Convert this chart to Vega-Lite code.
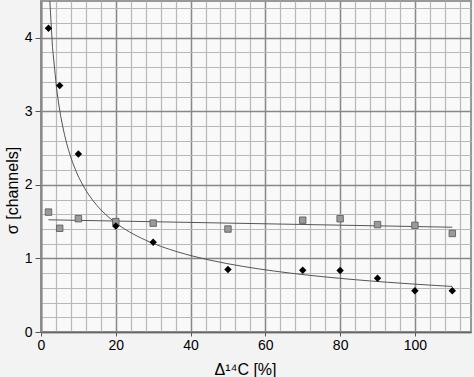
{
  "$schema": "https://vega.github.io/schema/vega-lite/v6.json",
  "width": 430,
  "height": 331,
  "autosize": {"type": "none"},
  "padding": {"left": 41, "top": 1, "right": 3, "bottom": 45},
  "background": "#f3f3f3",
  "view": {"fill": "#f9f9f9", "stroke": "#999999", "strokeWidth": 2},
  "config": {
    "font": "Liberation Sans",
    "axis": {"labelFont": "Liberation Sans", "titleFont": "Liberation Sans", "labelColor": "#000", "titleColor": "#000", "titleFontWeight": "normal"}
  },
  "data": {
    "values": [
      {"x": 2, "sigma": 4.13, "series": "diamond"},
      {"x": 5, "sigma": 3.35, "series": "diamond"},
      {"x": 10, "sigma": 2.42, "series": "diamond"},
      {"x": 20, "sigma": 1.44, "series": "diamond"},
      {"x": 30, "sigma": 1.22, "series": "diamond"},
      {"x": 50, "sigma": 0.85, "series": "diamond"},
      {"x": 70, "sigma": 0.84, "series": "diamond"},
      {"x": 80, "sigma": 0.835, "series": "diamond"},
      {"x": 90, "sigma": 0.73, "series": "diamond"},
      {"x": 100, "sigma": 0.56, "series": "diamond"},
      {"x": 110, "sigma": 0.56, "series": "diamond"},
      {"x": 2, "sigma": 1.63, "series": "square"},
      {"x": 5, "sigma": 1.41, "series": "square"},
      {"x": 10, "sigma": 1.54, "series": "square"},
      {"x": 20, "sigma": 1.50, "series": "square"},
      {"x": 30, "sigma": 1.48, "series": "square"},
      {"x": 50, "sigma": 1.40, "series": "square"},
      {"x": 70, "sigma": 1.52, "series": "square"},
      {"x": 80, "sigma": 1.54, "series": "square"},
      {"x": 90, "sigma": 1.46, "series": "square"},
      {"x": 100, "sigma": 1.45, "series": "square"},
      {"x": 110, "sigma": 1.34, "series": "square"}
    ]
  },
  "encoding": {
    "x": {
      "field": "x", "type": "quantitative",
      "scale": {"domain": [0, 115], "nice": false, "zero": false},
      "axis": {
        "title": "Δ¹⁴C [%]",
        "titleFontSize": 16, "titleX": 204, "titleY": 42, "titleBaseline": "alphabetic",
        "values": [0,4,8,12,16,20,24,28,32,36,40,44,48,52,56,60,64,68,72,76,80,84,88,92,96,100,104,108,112],
        "labelExpr": "datum.value % 20 === 0 ? datum.label : ''",
        "labelFontSize": 14, "labelPadding": 2, "labelFlush": false,
        "grid": true,
        "gridColor": {"condition": {"test": "datum.value % 20 === 0", "value": "#888888"}, "value": "#b8b8b8"},
        "gridWidth": {"condition": {"test": "datum.value % 20 === 0", "value": 1.5}, "value": 1.2},
        "tickSize": {"condition": {"test": "datum.value % 20 === 0", "value": 4}, "value": 0},
        "tickColor": "#555",
        "domainColor": "#666", "domainWidth": 1.5
      }
    },
    "y": {
      "field": "sigma", "type": "quantitative",
      "scale": {"domain": [0, 4.5], "nice": false},
      "axis": {
        "title": "σ [channels]",
        "titleFontSize": 16, "titleX": -24, "titleY": 189, "titleAngle": -90, "titleAlign": "center", "titleBaseline": "alphabetic",
        "values": [0,0.2,0.4,0.6,0.8,1,1.2,1.4,1.6,1.8,2,2.2,2.4,2.6,2.8,3,3.2,3.4,3.6,3.8,4,4.2,4.4],
        "labelExpr": "abs(datum.value - round(datum.value)) < 0.001 ? format(datum.value, 'd') : ''",
        "labelFontSize": 14, "labelPadding": 3,
        "grid": true,
        "gridColor": {"condition": {"test": "abs(datum.value - round(datum.value)) < 0.001", "value": "#888888"}, "value": "#b8b8b8"},
        "gridWidth": {"condition": {"test": "abs(datum.value - round(datum.value)) < 0.001", "value": 1.5}, "value": 1.2},
        "tickSize": {"condition": {"test": "abs(datum.value - round(datum.value)) < 0.001", "value": 6}, "value": 0},
        "tickColor": "#555",
        "domainColor": "#888", "domainWidth": 2
      }
    }
  },
  "layer": [
    {
      "transform": [
        {"filter": "datum.series === 'diamond'"},
        {"regression": "sigma", "on": "x", "method": "pow", "extent": [2, 110]}
      ],
      "mark": {"type": "line", "color": "#555555", "strokeWidth": 1, "clip": true}
    },
    {
      "transform": [
        {"filter": "datum.series === 'square'"},
        {"regression": "sigma", "on": "x", "method": "linear", "extent": [2, 110]}
      ],
      "mark": {"type": "line", "color": "#555555", "strokeWidth": 1, "clip": true}
    },
    {
      "transform": [{"filter": "datum.series === 'square'"}],
      "mark": {"type": "square", "filled": true, "color": "#9a9a9a", "stroke": "#555555", "strokeWidth": 0.8, "size": 42, "opacity": 1}
    },
    {
      "transform": [{"filter": "datum.series === 'diamond'"}],
      "mark": {"type": "point", "shape": "diamond", "filled": true, "color": "#000000", "size": 55, "opacity": 1}
    }
  ]
}
